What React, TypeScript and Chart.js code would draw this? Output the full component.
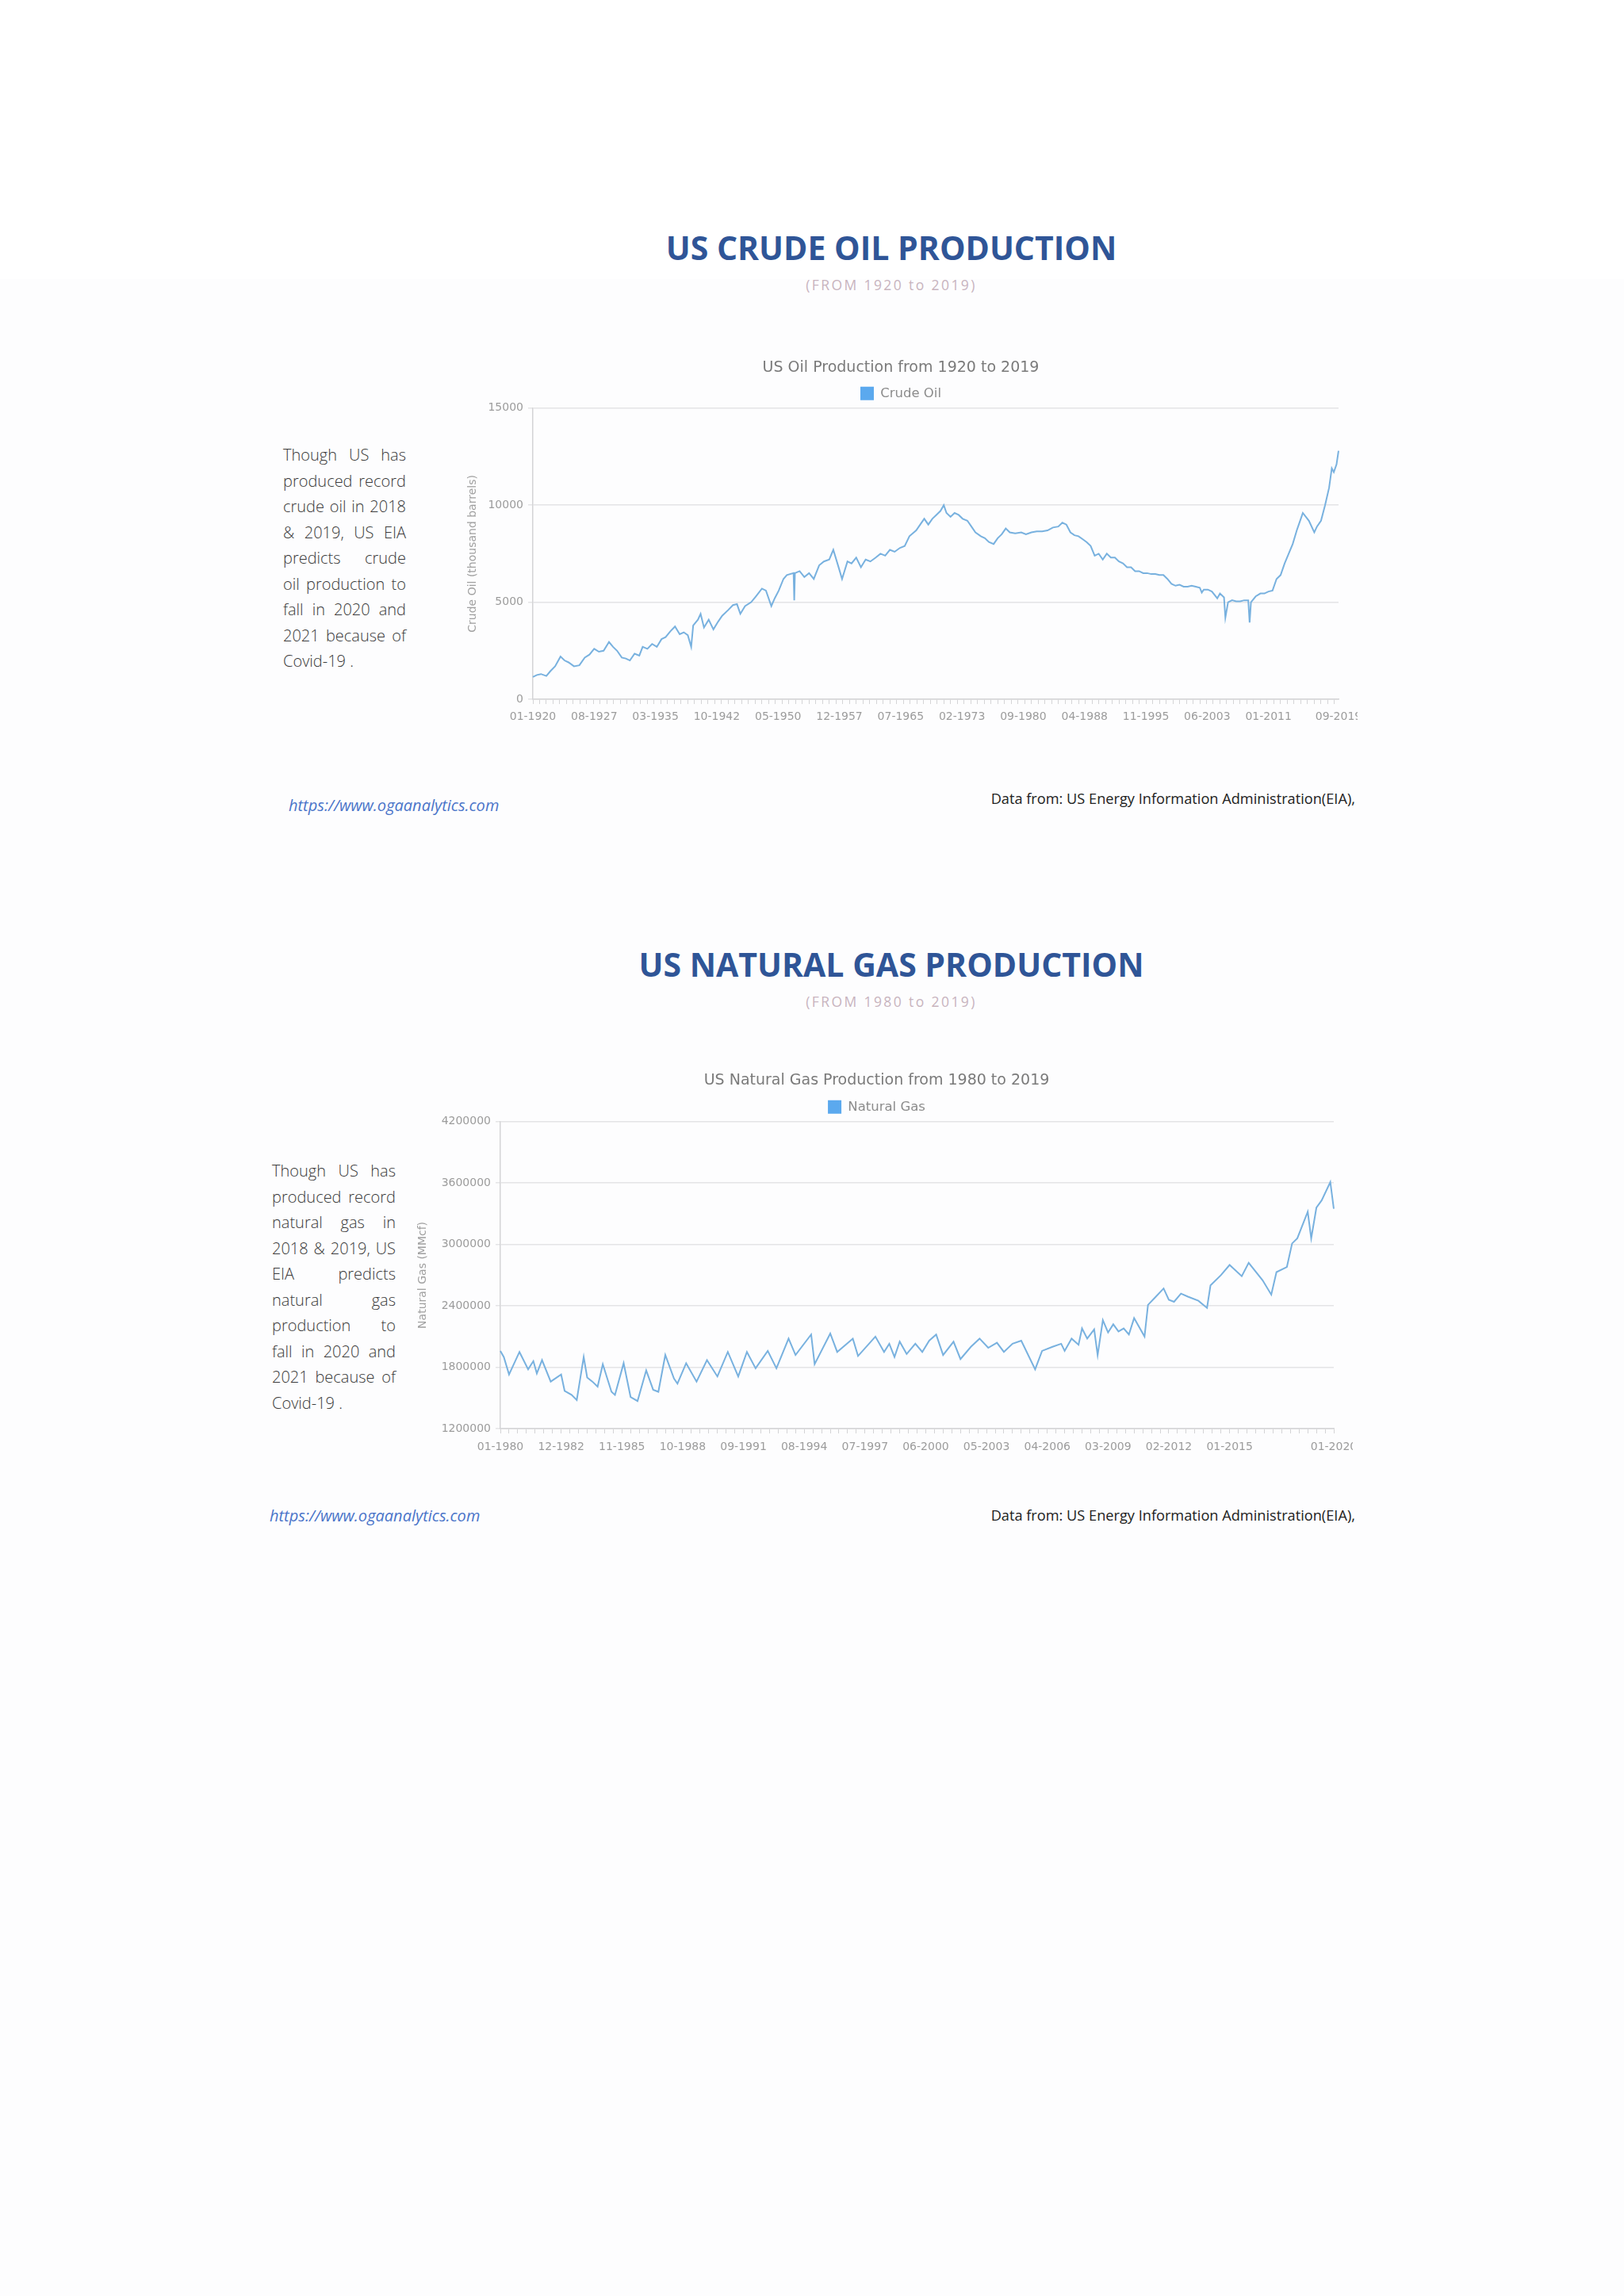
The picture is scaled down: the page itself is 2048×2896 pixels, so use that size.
import React, { useEffect, useRef } from "react";
import { Chart, registerables } from "chart.js";

Chart.register(...registerables);

// ---------------- DATA ----------------
// Crude oil (thousand barrels per day), monthly categories 01-1920 .. 09-2019
const oilTickLabels = [
  "01-1920", "08-1927", "03-1935", "10-1942", "05-1950", "12-1957", "07-1965",
  "02-1973", "09-1980", "04-1988", "11-1995", "06-2003", "01-2011", "09-2019",
];
const oilYTicks = [0, 5000, 10000, 15000];
const oilDates = [
  "01-1920", "07-1920", "01-1921", "09-1921", "03-1922", "10-1922", "06-1923", "12-1923",
  "06-1924", "02-1925", "10-1925", "06-1926", "01-1927", "08-1927", "03-1928", "10-1928",
  "06-1929", "12-1929", "06-1930", "01-1931", "07-1931", "01-1932", "08-1932", "03-1933",
  "08-1933", "03-1934", "10-1934", "05-1935", "12-1935", "06-1936", "01-1937", "08-1937",
  "03-1938", "09-1938", "03-1939", "08-1939", "11-1939", "06-1940", "10-1940", "03-1941",
  "10-1941", "05-1942", "12-1942", "06-1943", "03-1944", "10-1944", "04-1945", "09-1945",
  "04-1946", "01-1947", "08-1947", "05-1948", "11-1948", "07-1949", "12-1949", "06-1950",
  "01-1951", "06-1951", "04-1952", "05-1952", "06-1952", "01-1953", "08-1953", "03-1954",
  "10-1954", "06-1955", "01-1956", "09-1956", "03-1957", "10-1957", "04-1958", "12-1958",
  "06-1959", "01-1960", "08-1960", "03-1961", "10-1961", "06-1962", "01-1963", "08-1963",
  "03-1964", "10-1964", "06-1965", "01-1966", "08-1966", "06-1967", "12-1967", "06-1968",
  "12-1968", "06-1969", "12-1969", "06-1970", "11-1970", "03-1971", "09-1971", "03-1972",
  "09-1972", "03-1973", "10-1973", "04-1974", "10-1974", "06-1975", "12-1975", "06-1976",
  "01-1977", "07-1977", "01-1978", "07-1978", "01-1979", "09-1979", "06-1980", "01-1981",
  "09-1981", "05-1982", "01-1983", "09-1983", "05-1984", "01-1985", "07-1985", "01-1986",
  "07-1986", "01-1987", "07-1987", "01-1988", "07-1988", "01-1989", "07-1989", "01-1990",
  "07-1990", "01-1991", "07-1991", "01-1992", "07-1992", "01-1993", "07-1993", "01-1994",
  "07-1994", "01-1995", "07-1995", "01-1996", "07-1996", "01-1997", "07-1997", "01-1998",
  "07-1998", "01-1999", "07-1999", "01-2000", "07-2000", "01-2001", "07-2001", "01-2002",
  "07-2002", "10-2002", "01-2003", "07-2003", "01-2004", "09-2004", "01-2005", "07-2005",
  "09-2005", "01-2006", "07-2006", "01-2007", "07-2007", "01-2008", "07-2008", "09-2008",
  "11-2008", "06-2009", "01-2010", "07-2010", "01-2011", "07-2011", "01-2012", "07-2012",
  "01-2013", "07-2013", "01-2014", "07-2014", "01-2015", "04-2015", "01-2016", "09-2016",
  "01-2017", "07-2017", "01-2018", "07-2018", "11-2018", "02-2019", "06-2019", "09-2019",
];
const oilValues = [
  1150, 1250, 1300, 1200, 1450, 1700, 2200, 2000,
  1900, 1700, 1750, 2150, 2300, 2600, 2450, 2500,
  2950, 2700, 2500, 2150, 2100, 2000, 2350, 2250,
  2700, 2600, 2850, 2700, 3100, 3200, 3500, 3750,
  3350, 3450, 3300, 2700, 3800, 4100, 4400, 3700,
  4100, 3600, 4000, 4300, 4600, 4850, 4900, 4400,
  4800, 5000, 5300, 5700, 5600, 4800, 5200, 5600,
  6200, 6400, 6500, 5100, 6500, 6600, 6300, 6500,
  6200, 6900, 7100, 7200, 7700, 6900, 6200, 7100,
  7000, 7300, 6800, 7200, 7100, 7300, 7500, 7400,
  7700, 7600, 7800, 7900, 8400, 8700, 9000, 9300,
  9000, 9300, 9500, 9700, 10000, 9600, 9400, 9600,
  9500, 9300, 9200, 8900, 8600, 8400, 8300, 8100,
  8000, 8300, 8500, 8800, 8600, 8550, 8600, 8500,
  8600, 8650, 8650, 8700, 8850, 8900, 9100, 9000,
  8600, 8450, 8400, 8250, 8100, 7900, 7400, 7500,
  7200, 7500, 7300, 7300, 7100, 7000, 6800, 6800,
  6600, 6600, 6500, 6500, 6450, 6450, 6400, 6400,
  6200, 5950, 5850, 5900, 5800, 5800, 5850, 5800,
  5750, 5500, 5650, 5650, 5550, 5200, 5450, 5250,
  4200, 5000, 5100, 5050, 5050, 5100, 5100, 3950,
  5000, 5300, 5450, 5450, 5550, 5600, 6200, 6400,
  7000, 7500, 8000, 8700, 9300, 9600, 9200, 8600,
  8900, 9200, 10000, 10900, 11900, 11700, 12100, 12800,
];

// Natural gas (MMcf), monthly categories 01-1980 .. 01-2020
const gasTickLabels = [
  "01-1980", "12-1982", "11-1985", "10-1988", "09-1991", "08-1994", "07-1997",
  "06-2000", "05-2003", "04-2006", "03-2009", "02-2012", "01-2015", "01-2020",
];
const gasYTicks = [1200000, 1800000, 2400000, 3000000, 3600000, 4200000];
const gasDates = [
  "01-1980", "03-1980", "06-1980", "12-1980", "05-1981", "08-1981", "10-1981", "01-1982",
  "06-1982", "12-1982", "02-1983", "06-1983", "09-1983", "01-1984", "03-1984", "06-1984",
  "09-1984", "12-1984", "05-1985", "07-1985", "12-1985", "04-1986", "08-1986", "01-1987",
  "05-1987", "08-1987", "12-1987", "05-1988", "07-1988", "12-1988", "06-1989", "12-1989",
  "06-1990", "12-1990", "06-1991", "11-1991", "04-1992", "11-1992", "04-1993", "11-1993",
  "03-1994", "12-1994", "02-1995", "11-1995", "03-1996", "12-1996", "03-1997", "01-1998",
  "06-1998", "09-1998", "12-1998", "03-1999", "07-1999", "12-1999", "04-2000", "08-2000",
  "12-2000", "04-2001", "10-2001", "02-2002", "08-2002", "01-2003", "06-2003", "11-2003",
  "03-2004", "08-2004", "01-2005", "09-2005", "01-2006", "07-2006", "12-2006", "02-2007",
  "06-2007", "10-2007", "12-2007", "03-2008", "07-2008", "09-2008", "12-2008", "03-2009",
  "06-2009", "09-2009", "12-2009", "03-2010", "06-2010", "12-2010", "02-2011", "06-2011",
  "11-2011", "02-2012", "05-2012", "09-2012", "01-2013", "07-2013", "12-2013", "02-2014",
  "08-2014", "01-2015", "08-2015", "12-2015", "08-2016", "01-2017", "04-2017", "10-2017",
  "01-2018", "04-2018", "10-2018", "12-2018", "03-2019", "06-2019", "11-2019", "01-2020",
];
const gasValues = [
  1960000, 1900000, 1730000, 1950000, 1780000, 1860000, 1740000, 1870000,
  1660000, 1730000, 1570000, 1530000, 1480000, 1900000, 1700000, 1660000,
  1610000, 1830000, 1560000, 1530000, 1840000, 1510000, 1470000, 1770000,
  1580000, 1560000, 1920000, 1690000, 1640000, 1840000, 1660000, 1870000,
  1710000, 1950000, 1710000, 1950000, 1790000, 1960000, 1790000, 2080000,
  1920000, 2120000, 1830000, 2130000, 1950000, 2080000, 1910000, 2100000,
  1950000, 2030000, 1900000, 2050000, 1930000, 2030000, 1950000, 2060000,
  2120000, 1920000, 2050000, 1880000, 2000000, 2080000, 1990000, 2040000,
  1950000, 2030000, 2060000, 1780000, 1960000, 2000000, 2030000, 1960000,
  2080000, 2020000, 2180000, 2080000, 2170000, 1920000, 2260000, 2140000,
  2220000, 2150000, 2180000, 2120000, 2280000, 2100000, 2410000, 2480000,
  2570000, 2460000, 2440000, 2520000, 2490000, 2450000, 2380000, 2600000,
  2700000, 2800000, 2690000, 2820000, 2650000, 2510000, 2730000, 2780000,
  3010000, 3060000, 3320000, 3060000, 3360000, 3430000, 3610000, 3350000,
];

// ---------------- HELPERS ----------------
function buildMonths(y0: number, m0: number, y1: number, m1: number): string[] {
  const out: string[] = [];
  let y = y0;
  let m = m0;
  while (y < y1 || (y === y1 && m <= m1)) {
    out.push(String(m).padStart(2, "0") + "-" + y);
    m++;
    if (m > 12) {
      m = 1;
      y++;
    }
  }
  return out;
}

const oilCategories = buildMonths(1920, 1, 2019, 9);
const gasCategories = buildMonths(1980, 1, 2020, 1);

const LINE_COLOR = "#78b1df";
const LEGEND_COLOR = "#5ba9ee";
const GRID_COLOR = "#e4e4e6";
const AXIS_COLOR = "#d4d4d6";
const TICK_TEXT = "#9c9c9c";
const CHART_FONT = "'DejaVu Sans', sans-serif";
const SIDE_PAD = 24;

type ChartProps = {
  left: number;
  top: number;
  width: number;
  height: number;
  title: string;
  seriesName: string;
  yTitle: string;
  categories: string[];
  tickLabels: string[];
  dates: string[];
  values: number[];
  yTicks: number[];
  yWidth: number;
  yTitlePad: number;
  titlePadTop: number;
  titlePadBottom: number;
  xHeight: number;
  xPad: number;
  tickEvery: number;
};

function LineChart(p: ChartProps) {
  const ref = useRef<HTMLCanvasElement | null>(null);
  useEffect(() => {
    if (!ref.current) return;
    const shown = new Set(p.tickLabels);
    const chart = new Chart(ref.current, {
      type: "line",
      data: {
        labels: p.categories,
        datasets: [
          {
            label: p.seriesName,
            data: p.dates.map((d, i) => ({ x: d, y: p.values[i] })) as any,
            borderColor: LINE_COLOR,
            backgroundColor: LEGEND_COLOR,
            borderWidth: 2,
            pointRadius: 0,
            tension: 0,
            fill: false,
          },
        ],
      },
      options: {
        responsive: false,
        maintainAspectRatio: false,
        animation: false,
        events: [],
        layout: { padding: { left: SIDE_PAD, right: SIDE_PAD, top: 0, bottom: 0 } },
        plugins: {
          title: {
            display: true,
            text: p.title,
            color: "#7a7a7a",
            font: { family: CHART_FONT, size: 19, weight: "normal" as any },
            padding: { top: p.titlePadTop, bottom: p.titlePadBottom },
          },
          legend: {
            display: true,
            labels: {
              boxWidth: 17,
              boxHeight: 17,
              padding: 8,
              color: "#8c8c8c",
              font: { family: CHART_FONT, size: 16.5 },
              generateLabels: () => [
                {
                  text: p.seriesName,
                  fillStyle: LEGEND_COLOR,
                  strokeStyle: LEGEND_COLOR,
                  lineWidth: 0,
                  hidden: false,
                  datasetIndex: 0,
                  fontColor: "#8c8c8c",
                } as any,
              ],
            },
          },
          tooltip: { enabled: false },
        },
        scales: {
          x: {
            type: "category",
            offset: false,
            grid: {
              display: true,
              drawOnChartArea: false,
              drawTicks: true,
              tickLength: 6,
              lineWidth: 1,
              color: (ctx: any) =>
                ctx.index % p.tickEvery === 0 ? AXIS_COLOR : "rgba(0,0,0,0)",
            },
            border: { display: true, color: AXIS_COLOR, width: 1.5 },
            ticks: {
              autoSkip: false,
              maxRotation: 0,
              minRotation: 0,
              padding: p.xPad,
              color: TICK_TEXT,
              font: { family: CHART_FONT, size: 14 },
              callback: (_v: any, index: number) => {
                const lab = p.categories[index];
                return shown.has(lab) ? lab : "";
              },
            },
            afterFit: (s: any) => {
              s.height = p.xHeight;
              s.paddingLeft = 0;
              s.paddingRight = 0;
            },
          },
          y: {
            min: p.yTicks[0],
            max: p.yTicks[p.yTicks.length - 1],
            grid: { color: GRID_COLOR, lineWidth: 1.5, tickLength: 6 },
            border: { display: true, color: AXIS_COLOR, width: 1.5 },
            ticks: {
              stepSize: p.yTicks[1] - p.yTicks[0],
              padding: 6,
              color: TICK_TEXT,
              font: { family: CHART_FONT, size: 14 },
              callback: (v: any) => String(v),
            },
            title: {
              display: true,
              text: p.yTitle,
              color: "#a0a0a0",
              font: { family: CHART_FONT, size: 14 },
              padding: { top: p.yTitlePad, bottom: 0 },
            },
            afterFit: (s: any) => {
              s.width = p.yWidth;
            },
          },
        },
      },
    });
    return () => chart.destroy();
  }, []);
  return (
    <canvas
      ref={ref}
      width={p.width}
      height={p.height}
      style={{ position: "absolute", left: p.left, top: p.top, width: p.width, height: p.height }}
    />
  );
}

// ---------------- PAGE TEXT ----------------
const oilHeading = "US CRUDE OIL PRODUCTION";
const oilSub = "(FROM 1920 to 2019)";
const gasHeading = "US NATURAL GAS PRODUCTION";
const gasSub = "(FROM 1980 to 2019)";
const oilNote = [
  "Though US has",
  "produced record",
  "crude oil in 2018",
  "& 2019, US EIA",
  "predicts crude",
  "oil production to",
  "fall in 2020 and",
  "2021 because of",
  "Covid-19 .",
];
const gasNote = [
  "Though US has",
  "produced record",
  "natural gas in",
  "2018 & 2019, US",
  "EIA predicts",
  "natural gas",
  "production to",
  "fall in 2020 and",
  "2021 because of",
  "Covid-19 .",
];
const siteUrl = "https://www.ogaanalytics.com";
const sourceText = "Data from: US Energy Information Administration(EIA),";

const BODY_FONT = "'Open Sans', 'Noto Sans', sans-serif";

function Heading(props: { text: string; top: number }) {
  return (
    <div
      style={{
        position: "absolute",
        left: 1124 - 600,
        width: 1200,
        top: props.top,
        textAlign: "center",
        fontFamily: BODY_FONT,
        fontWeight: 700,
        fontSize: 41,
        lineHeight: "41px",
        color: "#2f5597",
        whiteSpace: "nowrap",
      }}
    >
      {props.text}
    </div>
  );
}

function SubHeading(props: { text: string; top: number }) {
  return (
    <div
      style={{
        position: "absolute",
        left: 1124 - 300,
        width: 600,
        top: props.top,
        textAlign: "center",
        fontFamily: BODY_FONT,
        fontSize: 17.5,
        lineHeight: "17.5px",
        letterSpacing: 2.4,
        color: "#c8b4be",
        whiteSpace: "nowrap",
      }}
    >
      {props.text}
    </div>
  );
}

function Note(props: { lines: string[]; left: number; top: number; width: number }) {
  return (
    <div
      style={{
        position: "absolute",
        left: props.left,
        top: props.top,
        width: props.width,
        fontFamily: BODY_FONT,
        fontWeight: 300,
        fontSize: 20,
        lineHeight: "32.5px",
        color: "#3a3a3a",
      }}
    >
      {props.lines.map((l, i) => (
        <div
          key={i}
          style={{
            textAlign: i === props.lines.length - 1 ? "left" : "justify",
            textAlignLast: i === props.lines.length - 1 ? "left" : "justify",
            whiteSpace: "nowrap",
            height: 32.5,
          }}
        >
          {l}
        </div>
      ))}
    </div>
  );
}

function Footer(props: { linkTop: number; dataTop: number; linkLeft: number }) {
  return (
    <>
      <div
        style={{
          position: "absolute",
          left: props.linkLeft,
          top: props.linkTop,
          fontFamily: BODY_FONT,
          fontStyle: "italic",
          fontSize: 20,
          lineHeight: "24px",
          color: "#4a74c9",
          whiteSpace: "nowrap",
        }}
      >
        {siteUrl}
      </div>
      <div
        style={{
          position: "absolute",
          right: 2048 - 1709,
          top: props.dataTop,
          fontFamily: BODY_FONT,
          fontSize: 18.2,
          lineHeight: "22px",
          color: "#222",
          whiteSpace: "nowrap",
        }}
      >
        {sourceText}
      </div>
    </>
  );
}

export default function App() {
  return (
    <div
      style={{
        position: "absolute",
        left: 0,
        top: 0,
        width: 2048,
        height: 2896,
        background: "#fdfdfe",
        overflow: "hidden",
      }}
    >
      <div style={{ position: "absolute", left: 0, top: 0, width: 2048, height: 352, background: "#ffffff" }} />

      <Heading text={oilHeading} top={292} />
      <SubHeading text={oilSub} top={351} />
      <Note lines={oilNote} left={357} top={558} width={155} />
      <LineChart
        left={560}
        top={430}
        width={1152}
        height={497}
        title="US Oil Production from 1920 to 2019"
        seriesName="Crude Oil"
        yTitle="Crude Oil (thousand barrels)"
        categories={oilCategories}
        tickLabels={oilTickLabels}
        dates={oilDates}
        values={oilValues}
        yTicks={oilYTicks}
        yWidth={112 - SIDE_PAD}
        yTitlePad={28 - SIDE_PAD}
        titlePadTop={23}
        titlePadBottom={4}
        xHeight={45}
        xPad={8}
        tickEvery={10}
      />
      <Footer linkTop={1004} dataTop={996} linkLeft={364} />

      <Heading text={gasHeading} top={1196} />
      <SubHeading text={gasSub} top={1255} />
      <Note lines={gasNote} left={343} top={1461} width={156} />
      <LineChart
        left={505}
        top={1330}
        width={1201}
        height={517}
        title="US Natural Gas Production from 1980 to 2019"
        seriesName="Natural Gas"
        yTitle="Natural Gas (MMcf)"
        categories={gasCategories}
        tickLabels={gasTickLabels}
        dates={gasDates}
        values={gasValues}
        yTicks={gasYTicks}
        yWidth={126 - SIDE_PAD}
        yTitlePad={20 - SIDE_PAD}
        titlePadTop={22}
        titlePadBottom={5}
        xHeight={45}
        xPad={9}
        tickEvery={5}
      />
      <Footer linkTop={1900} dataTop={1900} linkLeft={340} />
    </div>
  );
}
